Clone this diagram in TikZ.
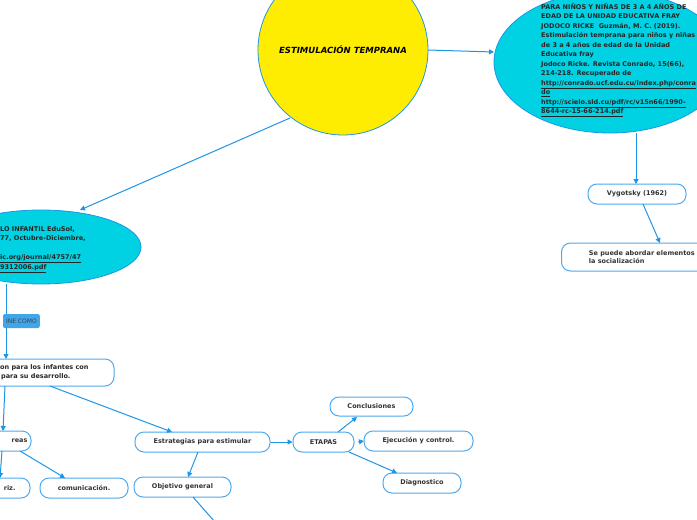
\documentclass[tikz,border=0pt]{standalone}
\usepackage{fontspec}
\setmainfont{DejaVu Sans}
\usetikzlibrary{arrows.meta}
\definecolor{ln}{HTML}{1E96E6}
\definecolor{cy}{HTML}{00D2E3}
\definecolor{bd}{HTML}{4EA9EE}
\tikzset{
  x=1pt,y=-1pt,
  conn/.style={draw=ln,line width=1pt,-{Triangle[length=5pt,width=5pt]}},
  rbox/.style={draw=bd,line width=1pt,fill=white,rounded corners=9pt,font=\fontsize{6.5}{8}\selectfont\bfseries,text=black!80},
  txt/.style={font=\fontsize{6.5}{9.5}\selectfont\bfseries,text=black!85,align=left,anchor=north west,inner sep=0pt}
}
\begin{document}
\begin{tikzpicture}
\useasboundingbox (0,0) rectangle (697,520);
\clip (0,0) rectangle (697,520);
\fill[white] (0,0) rectangle (697,520);
% nodes
\filldraw[fill=yellow!95!orange,draw=ln,line width=0.8pt] (343,50) circle (85);
\node[font=\fontsize{8.5}{10}\selectfont\bfseries\itshape] (main) at (343,50) {ESTIMULACIÓN TEMPRANA};
\coordinate (mainR) at (428,50);
\coordinate (mainB) at (290,118);
\filldraw[fill=cy,draw=ln,line width=0.8pt] (610,62) ellipse (116 and 71);
\coordinate (elR) at (494,52);
\coordinate (elRb) at (636,133);
\node[txt] (reftxt) at (541,3) {PARA NIÑOS Y NIÑAS DE 3 A 4 AÑOS DE\\EDAD DE LA UNIDAD EDUCATIVA FRAY\\JODOCO RICKE\ \ Guzmán, M. C. (2019).\\Estimulación temprana para niños y niñas\\de 3 a 4 años de edad de la Unidad\\Educativa fray\\Jodoco Ricke. Revista Conrado, 15(66),\\214-218. Recuperado de\\\underline{http://conrado.ucf.edu.cu/index.php/conra}\\\underline{do}\\\underline{http://scielo.sld.cu/pdf/rc/v15n66/1990-}\\\underline{8644-rc-15-66-214.pdf}};
\filldraw[fill=cy,draw=ln,line width=0.8pt] (41,247) ellipse (100 and 37);
\coordinate (elL) at (80,210);
\coordinate (elLb) at (6,284);
\node[txt] (lefttxt) at (0,226) {LO INFANTIL EduSol,\\77, Octubre-Diciembre,\\ \\\underline{ic.org/journal/4757/47}\\\underline{9312006.pdf}};
\node[fill=ln!85,rounded corners=2pt,font=\fontsize{6}{7}\selectfont,text=black!75,minimum height=14pt,anchor=east,inner xsep=3pt] (def) at (40,321) {INE COMO};
\node[rbox,minimum width=150pt,minimum height=27pt] (b1) at (39,372.5) {};
\node[txt,font=\fontsize{6.5}{9}\selectfont\bfseries] (b1t) at (0,364) {on para los infantes con\\\hspace*{1pt}para su desarrollo.};
\node[rbox,minimum width=70pt,minimum height=20pt] (areas) at (-4,441) {};
\node[rbox,font=\fontsize{6.5}{8}\selectfont\bfseries,draw=none,fill=none,anchor=east,inner sep=0pt] (areast) at (28,441) {reas};
\node[rbox,minimum width=60pt,minimum height=20pt] (riz) at (0,488) {};
\node[rbox,draw=none,fill=none,anchor=east,inner sep=0pt] (rizt) at (16,488) {riz.};
\node[rbox,minimum width=88pt,minimum height=20pt] (com) at (84,488) {comunicación.};
\node[rbox,minimum width=135pt,minimum height=20pt] (est) at (202.5,442) {Estrategias para estimular};
\node[rbox,minimum width=97pt,minimum height=20pt] (obj) at (182.5,487) {Objetivo general};
\coordinate (off) at (215,522);
\node[rbox,minimum width=61pt,minimum height=20pt] (et) at (323.5,442) {ETAPAS};
\node[rbox,minimum width=83pt,minimum height=19pt] (conc) at (371.5,406.5) {Conclusiones};
\node[rbox,minimum width=109pt,minimum height=20pt] (eje) at (418.5,441) {Ejecución y control.};
\node[rbox,minimum width=78pt,minimum height=20pt] (diag) at (422,483) {Diagnostico};
\node[rbox,minimum width=98pt,minimum height=20pt] (vyg) at (637,194) {Vygotsky (1962)};
\node[rbox,minimum width=160pt,minimum height=28pt,align=left,anchor=west] (se) at (561,257) {\hspace*{12pt}Se puede abordar elementos de\\\hspace*{12pt}la socialización};
% connectors
\draw[conn] (mainR) -- (elR);
\draw[conn] (mainB) -- (elL);
\draw[draw=ln,line width=1pt] (elLb) -- (6,314);
\draw[conn] (6,328) -- (6,359);
\draw[conn] (5,386) -- (3,431);
\draw[conn] (50,386) -- (172,432);
\draw[conn] (2,451) -- (0,478);
\draw[conn] (20,451) -- (65,478);
\draw[conn] (198,452) -- (188,477);
\draw[draw=ln,line width=1pt] (193,497) -- (off);
\draw[conn] (est) -- (et);
\draw[conn] (338,432) -- (357,417);
\draw[conn] (358,442) -- (364,441);
\draw[conn] (349,452) -- (397,473);
\draw[conn] (elRb) -- (636,184);
\draw[conn] (643,204) -- (660,243);
\end{tikzpicture}
\end{document}
